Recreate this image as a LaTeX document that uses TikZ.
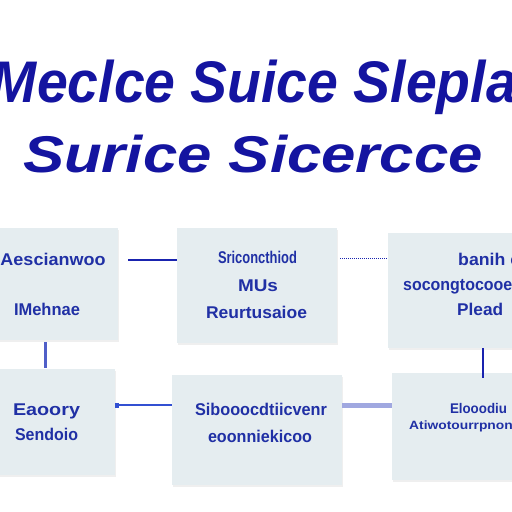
\documentclass[tikz,border=0pt]{standalone}
\usepackage{fontspec}
\setmainfont{Liberation Sans}
\usetikzlibrary{shadows}
\usetikzlibrary{arrows.meta}

\definecolor{titleblue}{RGB}{20,20,160}
\definecolor{boxfill}{RGB}{229,237,240}
\definecolor{txtblue}{RGB}{32,48,165}
\definecolor{linkblue}{RGB}{25,35,175}

\newsavebox\txtbox
\newcommand\fitw[2]{\sbox\txtbox{#2}\pgfmathsetmacro\fitratio{#1/\wd\txtbox}\scalebox{\fitratio}[1]{\usebox\txtbox}}

\begin{document}
\begin{tikzpicture}[x=1pt,y=-1pt,
  title/.style={anchor=base,inner sep=0,text=titleblue,font=\bfseries\itshape},
  panel/.style={fill=boxfill,inner sep=0,drop shadow={opacity=.12,shadow xshift=1pt,shadow yshift=-1.5pt}},
  txt/.style={anchor=base,inner sep=0,text=txtblue,font=\bfseries\fontsize{17}{18}\selectfont}]
\useasboundingbox[fill=white] (0,0) rectangle (512,512);

% heading
\node[title] (h1) at (254,102) {\fontsize{58.7}{60}\selectfont\fitw{526}{Meclce Suice Slepla}};
\node[title] (h2) at (253,172) {\fontsize{51.7}{53}\selectfont\fitw{460}{Surice Sicercce}};

% boxes
\node[panel,minimum width=122pt,minimum height=112pt] (b1) at (57,284) {};
\node[panel,minimum width=160pt,minimum height=115pt] (b2) at (257,285.5) {};
\node[panel,minimum width=132pt,minimum height=115pt] (b3) at (454,290.5) {};
\node[panel,minimum width=119pt,minimum height=106pt] (b4) at (55.5,422) {};
\node[panel,minimum width=170pt,minimum height=110pt] (b5) at (257,430) {};
\node[panel,minimum width=128pt,minimum height=107pt] (b6) at (456,426.5) {};

% box texts
\node[txt] (a1) at (53,265) {\fitw{105}{Aescianwoo}};
\node[txt] (a2) at (47,315) {\fitw{66}{IMehnae}};
\node[txt] (m1) at (257.5,263) {\fitw{79}{Sriconcthiod}};
\node[txt] (m2) at (258,291) {\fitw{40}{MUs}};
\node[txt] (m3) at (256.5,318) {\fitw{101}{Reurtusaioe}};
\node[txt,anchor=base west] (r1) at (458,265) {\fitw{62}{banih c}};
\node[txt,anchor=base west] (r2) at (403,290) {\fitw{118}{socongtocooee}};
\node[txt,anchor=base west] (r3) at (457,315) {\fitw{46}{Plead}};
\node[txt] (e1) at (46.5,415) {\fitw{67}{Eaoory}};
\node[txt] (e2) at (46.5,440) {\fitw{63}{Sendoio}};
\node[txt] (s1) at (261,415) {\fitw{132}{Sibooocdtiicvenr}};
\node[txt] (s2) at (260,442) {\fitw{104}{eoonniekicoo}};
\node[txt,font=\bfseries\fontsize{14}{15}\selectfont] (p1) at (478.5,413) {\fitw{57}{Elooodiu}};
\node[txt,anchor=base west,font=\bfseries\fontsize{12}{13}\selectfont] (p2) at (409,429) {\fitw{112}{Atiwotourrpnonn}};

% links
\draw[linkblue,line width=2pt] ([xshift=10pt,yshift=24pt]b1.east) -- ([yshift=25.5pt]b2.west);
\draw[linkblue,line width=1pt,densely dotted] ([xshift=3pt,yshift=27.5pt]b2.east) -- ([yshift=32.5pt]b3.west);
\draw[color={rgb,255:red,80;green,95;blue,200},line width=3pt] ([xshift=-12pt,yshift=-2pt]b1.south) -- ([xshift=-10.5pt,yshift=1pt]b4.north);
\draw[linkblue,line width=.7pt,double,double distance=1.3pt] ([xshift=2pt,yshift=-7pt]b2.south) -- ([xshift=2pt]b5.north);
\draw[linkblue,line width=2.5pt] ([xshift=29pt]b3.south) -- ([xshift=27pt,yshift=-5pt]b6.north);
\draw[{Square[length=4pt,width=5pt]}-,color={rgb,255:red,50;green,80;blue,210},line width=1.8pt] ([yshift=17pt]b4.east) -- ([yshift=25pt]b5.west);
\draw[color={rgb,255:red,160;green,168;blue,224},line width=5pt] ([yshift=25pt]b5.east) -- ([yshift=21.5pt]b6.west);
\end{tikzpicture}
\end{document}
